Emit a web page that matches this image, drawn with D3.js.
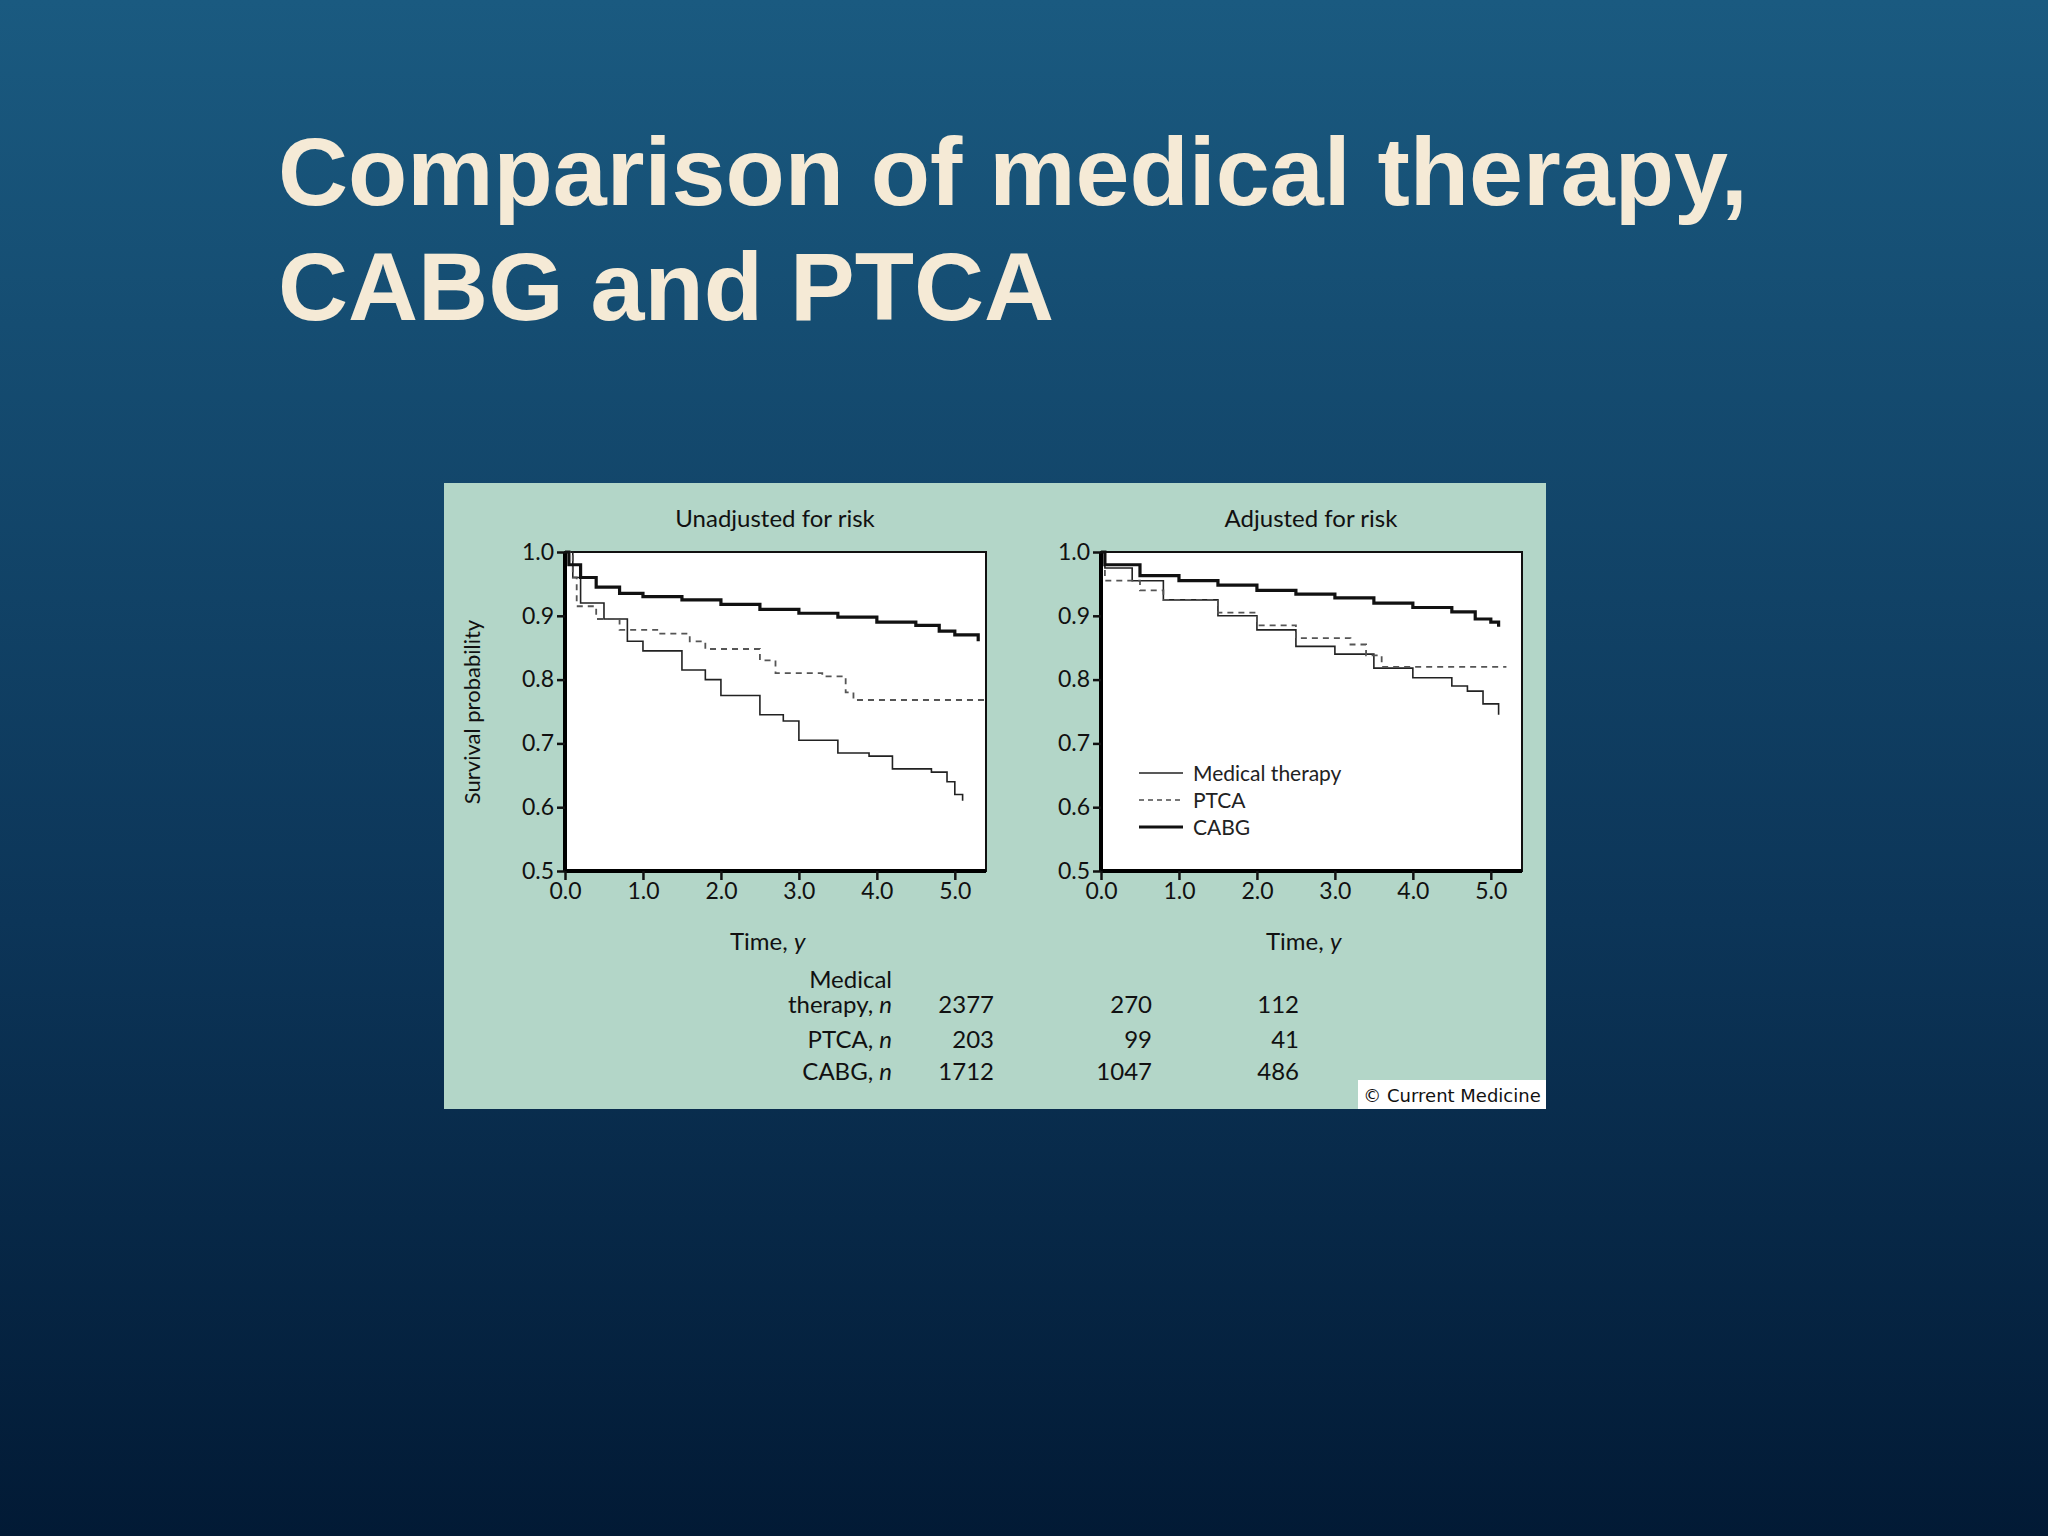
<!DOCTYPE html>
<html><head><meta charset="utf-8">
<script src="https://cdn.jsdelivr.net/npm/d3@7"></script>
<style>body{margin:0;overflow:hidden}</style>
</head><body>
<script>
// survival curves, [year, probability]
var leftMed = [[0,1],[0.1,0.96],[0.2,0.92],[0.5,0.895],[0.8,0.86],[1,0.845],[1.5,0.815],[1.8,0.8],[2,0.775],[2.5,0.745],[2.8,0.735],[3,0.705],[3.5,0.685],[3.9,0.68],[4.2,0.66],[4.7,0.655],[4.9,0.64],[5,0.62],[5.1,0.61]]
var leftPtca = [[0,1],[0.1,0.96],[0.15,0.915],[0.4,0.895],[0.7,0.878],[1.2,0.872],[1.6,0.86],[1.8,0.848],[2.5,0.83],[2.7,0.81],[3.3,0.805],[3.6,0.78],[3.7,0.768],[5.4,0.768]]
var leftCabg = [[0,1],[0.05,0.98],[0.2,0.96],[0.4,0.945],[0.7,0.935],[1,0.93],[1.5,0.925],[2,0.918],[2.5,0.91],[3,0.904],[3.5,0.898],[4,0.89],[4.5,0.885],[4.8,0.876],[5,0.87],[5.3,0.86]]
var rightMed = [[0,1],[0.05,0.975],[0.4,0.955],[0.8,0.925],[1.5,0.9],[2,0.878],[2.5,0.852],[3,0.84],[3.5,0.818],[4,0.803],[4.5,0.79],[4.7,0.782],[4.9,0.762],[5.1,0.745]]
var rightPtca = [[0,1],[0.05,0.955],[0.5,0.94],[0.8,0.925],[1.5,0.905],[2,0.885],[2.5,0.865],[3.2,0.855],[3.4,0.838],[3.6,0.82],[5.2,0.82]]
var rightCabg = [[0,1],[0.05,0.98],[0.5,0.963],[1,0.955],[1.5,0.948],[2,0.94],[2.5,0.934],[3,0.928],[3.5,0.92],[4,0.913],[4.5,0.906],[4.8,0.895],[5,0.89],[5.1,0.883]]
var yTicks = [0.5,0.6,0.7,0.8,0.9,1.0]
var xTicks = [0,1,2,3,4,5]
var rowLabels = ["therapy, n","PTCA, n","CABG, n"]
var counts0 = ["2377","203","1712"]
var counts1 = ["270","99","1047"]
var counts2 = ["112","41","486"]
var legendItems = ["Medical therapy","PTCA","CABG"]

var W = 2048, H = 1536
var svg = d3.select("body").append("svg").attr("width", W).attr("height", H)
var grad = svg.append("defs").append("linearGradient").attr("id","bg").attr("x1",0).attr("y1",0).attr("x2",0).attr("y2",1)
grad.append("stop").attr("offset","0%").attr("stop-color","#1a5a80")
grad.append("stop").attr("offset","60%").attr("stop-color","#0c3558")
grad.append("stop").attr("offset","100%").attr("stop-color","#021a35")
svg.append("rect").attr("width",W).attr("height",H).attr("fill","url(#bg)")

svg.append("text").attr("x",278).attr("y",205).attr("fill","#f5ead6")
   .attr("font-family","Liberation Sans, Arial").attr("font-weight","bold").attr("font-size",97)
   .text("Comparison of medical therapy,")
svg.append("text").attr("x",278).attr("y",320).attr("fill","#f5ead6")
   .attr("font-family","Liberation Sans, Arial").attr("font-weight","bold").attr("font-size",97)
   .text("CABG and PTCA")

// the pasted figure
svg.append("rect").attr("x",444).attr("y",483).attr("width",1102).attr("height",626).attr("fill","#b3d6c8")

var font = "Lato, 'Open Sans', sans-serif"

function panel(x0, title, med, ptca, cabg, legend) {
  var x = d3.scaleLinear().domain([0,5.4]).range([x0, x0+421])
  var y = d3.scaleLinear().domain([0.5,1.0]).range([871, 552])
  svg.append("rect").attr("x",x0).attr("y",552).attr("width",421).attr("height",319)
     .attr("fill","#fff").attr("stroke","#111").attr("stroke-width",2)
  svg.append("line").attr("x1",x0).attr("x2",x0).attr("y1",552).attr("y2",871).attr("stroke","#000").attr("stroke-width",4)
  svg.append("line").attr("x1",x0).attr("x2",x0+421).attr("y1",871).attr("y2",871).attr("stroke","#000").attr("stroke-width",4)
  var ya = svg.append("g").attr("transform","translate("+x0+",0)")
     .call(d3.axisLeft(y).tickValues(yTicks).tickFormat(d3.format(".1f")).tickSize(8))
  var xa = svg.append("g").attr("transform","translate(0,871)")
     .call(d3.axisBottom(x).tickValues(xTicks).tickSize(9))
  ;[ya, xa].forEach(function(a){
    a.select(".domain").remove()
    a.selectAll("line").attr("stroke","#111").attr("stroke-width",2.5)
    a.selectAll("text").attr("font-family",font).attr("font-size",23).attr("fill","#111")
  })
  svg.append("text").attr("x",x0+210).attr("y",527).attr("text-anchor","middle")
     .attr("font-family",font).attr("font-size",24).attr("fill","#111").text(title)
  svg.append("text").attr("x",x(2.6)).attr("y",950).attr("text-anchor","middle")
     .attr("font-family",font).attr("font-size",24).attr("fill","#111")
     .html("Time, <tspan font-style='italic'>y</tspan>")
  var line = d3.line().x(function(d){return x(d[0])}).y(function(d){return y(d[1])}).curve(d3.curveStepAfter)
  svg.append("path").attr("d",line(med)).attr("fill","none").attr("stroke","#222").attr("stroke-width",1.6)
  svg.append("path").attr("d",line(ptca)).attr("fill","none").attr("stroke","#555").attr("stroke-width",1.8).attr("stroke-dasharray","6,5")
  svg.append("path").attr("d",line(cabg)).attr("fill","none").attr("stroke","#111").attr("stroke-width",3.2)
  if (legend) {
    var styles = [["#222",1.6,null],["#777",1.8,"5,4"],["#111",3.2,null]]
    legendItems.forEach(function(t,i){
      var ly = 773 + i*27
      svg.append("line").attr("x1",1139).attr("x2",1183).attr("y1",ly).attr("y2",ly)
         .attr("stroke",styles[i][0]).attr("stroke-width",styles[i][1]).attr("stroke-dasharray",styles[i][2])
      svg.append("text").attr("x",1193).attr("y",ly+8).attr("font-family",font).attr("font-size",21).attr("fill","#222").text(t)
    })
  }
}
panel(565, "Unadjusted for risk", leftMed, leftPtca, leftCabg, false)
panel(1101, "Adjusted for risk", rightMed, rightPtca, rightCabg, true)

svg.append("text").attr("x",480).attr("y",712).attr("transform","rotate(-90,480,712)").attr("text-anchor","middle")
   .attr("font-family",font).attr("font-size",22).attr("fill","#111").text("Survival probability")

// numbers at risk
var rowY = [1013,1048,1080]
svg.append("text").attr("x",892).attr("y",988).attr("text-anchor","end").attr("font-family",font).attr("font-size",24).attr("fill","#111").text("Medical")
rowLabels.forEach(function(t,i){
  var parts = t.split("n")
  svg.append("text").attr("x",892).attr("y",rowY[i]).attr("text-anchor","end").attr("font-family",font).attr("font-size",24).attr("fill","#111")
     .html(t.slice(0,-1)+"<tspan font-style='italic'>n</tspan>")
})
;[[counts0,994],[counts1,1152],[counts2,1299]].forEach(function(c){
  c[0].forEach(function(v,i){
    svg.append("text").attr("x",c[1]).attr("y",rowY[i]).attr("text-anchor","end").attr("font-family",font).attr("font-size",24).attr("fill","#111").text(v)
  })
})

svg.append("rect").attr("x",1358).attr("y",1080).attr("width",188).attr("height",29).attr("fill","#fff")
svg.append("text").attr("x",1452).attr("y",1102).attr("text-anchor","middle").attr("font-family","DejaVu Sans").attr("font-size",18).attr("fill","#111").text("© Current Medicine")
</script>
</body></html>
